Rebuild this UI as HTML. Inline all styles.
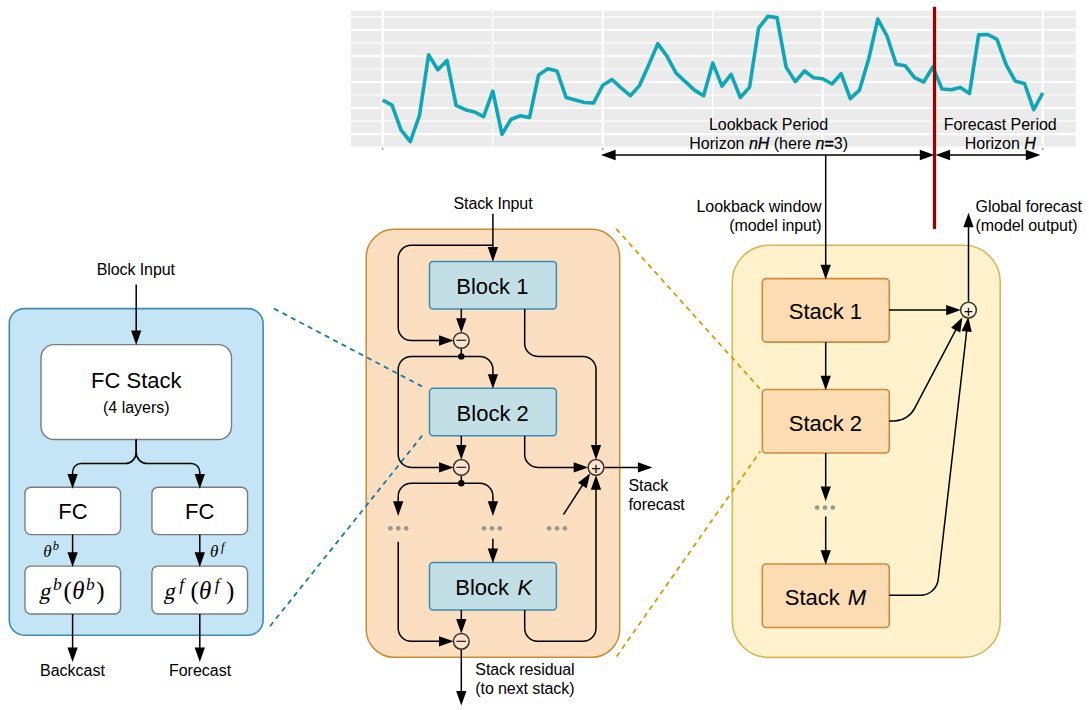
<!DOCTYPE html>
<html lang="en"><head><meta charset="utf-8"><title>N-BEATS architecture</title>
<style>
html,body{margin:0;padding:0;background:#fff;}
body{width:1089px;height:710px;overflow:hidden;}
svg{display:block;}
text{font-family:"Liberation Sans",sans-serif;fill:#000;}
.l{font-size:16px;}
.n{letter-spacing:-0.09px;}
.ib{font-style:italic;stroke:#000;stroke-width:0.25px;}
.t{font-size:22px;}
.i{font-style:italic;}
.m{font-family:"Liberation Serif",serif;font-style:italic;}
.ln{fill:none;stroke:#000;stroke-width:1.5;}
.ah{fill:#000;stroke:none;}
.ms{font-family:"Liberation Serif",serif;}
</style></head><body>
<svg width="1089" height="710" viewBox="0 0 1089 710">
<g id="chart">
<rect x="351" y="10.9" width="724.8" height="136.7" fill="#ebebeb"/>
<line x1="351" x2="1075.8" y1="16.9" y2="16.9" stroke="#fff" stroke-width="1.2"/>
<line x1="351" x2="1075.8" y1="29.9" y2="29.9" stroke="#fff" stroke-width="2.1"/>
<line x1="351" x2="1075.8" y1="42.9" y2="42.9" stroke="#fff" stroke-width="1.2"/>
<line x1="351" x2="1075.8" y1="56.0" y2="56.0" stroke="#fff" stroke-width="2.1"/>
<line x1="351" x2="1075.8" y1="69.0" y2="69.0" stroke="#fff" stroke-width="1.2"/>
<line x1="351" x2="1075.8" y1="82.0" y2="82.0" stroke="#fff" stroke-width="2.1"/>
<line x1="351" x2="1075.8" y1="95.0" y2="95.0" stroke="#fff" stroke-width="1.2"/>
<line x1="351" x2="1075.8" y1="108.0" y2="108.0" stroke="#fff" stroke-width="2.1"/>
<line x1="351" x2="1075.8" y1="121.1" y2="121.1" stroke="#fff" stroke-width="1.2"/>
<line x1="351" x2="1075.8" y1="134.1" y2="134.1" stroke="#fff" stroke-width="2.1"/>
<line x1="351" x2="1075.8" y1="147.1" y2="147.1" stroke="#fff" stroke-width="1.2"/>
<line x1="382.7" x2="382.7" y1="10.9" y2="147.6" stroke="#fff" stroke-width="2.2"/>
<rect x="382.2" y="148.1" width="1" height="1.6" fill="#555"/>
<line x1="492.7" x2="492.7" y1="10.9" y2="147.6" stroke="#fff" stroke-width="1.2"/>
<line x1="602.7" x2="602.7" y1="10.9" y2="147.6" stroke="#fff" stroke-width="2.2"/>
<rect x="602.2" y="148.1" width="1" height="1.6" fill="#555"/>
<line x1="712.7" x2="712.7" y1="10.9" y2="147.6" stroke="#fff" stroke-width="1.2"/>
<line x1="822.7" x2="822.7" y1="10.9" y2="147.6" stroke="#fff" stroke-width="2.2"/>
<rect x="822.2" y="148.1" width="1" height="1.6" fill="#555"/>
<line x1="932.7" x2="932.7" y1="10.9" y2="147.6" stroke="#fff" stroke-width="1.2"/>
<line x1="1042.7" x2="1042.7" y1="10.9" y2="147.6" stroke="#fff" stroke-width="2.2"/>
<rect x="1042.2" y="148.1" width="1" height="1.6" fill="#555"/>
<polyline points="382.8,100.2 392.0,105.2 401.1,130.2 410.3,141.5 419.5,115.3 428.6,54.7 437.8,69.8 447.0,60.4 456.1,105.4 465.3,109.7 474.5,112.0 483.6,116.7 492.8,91.2 502.0,134.3 511.1,119.2 520.3,115.8 529.5,117.6 538.6,75.0 547.8,68.7 557.0,71.0 566.1,97.5 575.3,100.0 584.5,102.5 593.6,103.0 602.8,85.2 612.0,79.5 621.1,87.9 630.3,95.7 639.5,85.6 648.6,65.3 657.8,43.6 667.0,56.3 676.1,73.2 685.3,81.6 694.5,90.1 703.6,95.7 712.8,63.1 722.0,86.1 731.1,74.3 740.3,97.5 749.5,87.4 758.6,28.2 767.8,16.4 777.0,17.6 786.1,67.1 795.3,81.6 804.5,71.0 813.6,77.7 822.8,78.8 832.0,84.0 841.1,73.7 850.3,98.7 859.5,90.1 868.7,59.0 877.8,19.1 887.0,36.0 896.2,64.2 905.3,65.8 914.5,77.7 923.7,82.0 932.8,67.0 942.0,89.0 951.2,89.7 960.3,87.4 969.5,93.5 978.7,34.9 987.8,34.5 997.0,39.4 1006.2,64.9 1015.3,81.1 1024.5,83.4 1033.7,109.7 1042.8,93.0" fill="none" stroke="#0fa6b6" stroke-width="3.6" stroke-linejoin="round" stroke-linecap="butt"/>
</g>
<g id="containers">
<rect x="9.3" y="308.6" width="253.8" height="326.6" rx="15" fill="#c4e5f5" stroke="#3d8bb5" stroke-width="1.6"/>
<rect x="366.2" y="229.3" width="253.5" height="428" rx="28" fill="#fbdfc0" stroke="#cc8b33" stroke-width="1.5"/>
<rect x="732.3" y="245.3" width="267.9" height="412.1" rx="36.5" fill="#fff2cc" stroke="#d6b656" stroke-width="1.6"/>
<path d="M274 308.6L422 386.4" stroke="#1b78a5" stroke-width="1.8" stroke-dasharray="5.1 4.45" fill="none"/>
<path d="M270 626.2L423.2 434.4" stroke="#1b78a5" stroke-width="1.8" stroke-dasharray="5.1 4.45" fill="none"/>
<path d="M616.2 228.8L759.8 388.6" stroke="#d79b00" stroke-width="1.8" stroke-dasharray="5.1 4.45" fill="none"/>
<path d="M616.6 656.6L760.4 451.2" stroke="#d79b00" stroke-width="1.8" stroke-dasharray="5.1 4.45" fill="none"/>
</g>
<g id="boxes">
<rect x="41" y="344.6" width="190.5" height="94.9" rx="13" fill="#fff" stroke="#7c7c7c" stroke-width="1.4"/>
<rect x="24.95" y="487.2" width="95.6" height="47.4" rx="6" fill="#fff" stroke="#7c7c7c" stroke-width="1.4"/>
<rect x="24.95" y="566.1" width="95.6" height="47.9" rx="6" fill="#fff" stroke="#7c7c7c" stroke-width="1.4"/>
<rect x="151.95" y="487.2" width="95.6" height="47.4" rx="6" fill="#fff" stroke="#7c7c7c" stroke-width="1.4"/>
<rect x="151.95" y="566.1" width="95.6" height="47.9" rx="6" fill="#fff" stroke="#7c7c7c" stroke-width="1.4"/>
<rect x="429.5" y="261.4" width="126.9" height="47.5" rx="3.5" fill="#c3dfe6" stroke="#3b8db3" stroke-width="1.5"/>
<rect x="429.5" y="388.2" width="126.9" height="47.5" rx="3.5" fill="#c3dfe6" stroke="#3b8db3" stroke-width="1.5"/>
<rect x="429.5" y="562.5" width="126.9" height="47.5" rx="3.5" fill="#c3dfe6" stroke="#3b8db3" stroke-width="1.5"/>
<rect x="762.3" y="278.6" width="127" height="63.5" rx="4" fill="#fbdcb3" stroke="#cc8a3c" stroke-width="1.6"/>
<rect x="762.3" y="389.5" width="127" height="63.5" rx="4" fill="#fbdcb3" stroke="#cc8a3c" stroke-width="1.6"/>
<rect x="762.3" y="564.0" width="127" height="63.5" rx="4" fill="#fbdcb3" stroke="#cc8a3c" stroke-width="1.6"/>
</g>
<g id="lines">
<path class="ln" d="M760.00 155.00L608.80 155.00"/>
<path class="ln" d="M760.00 155.00L926.60 155.00"/>
<path class="ln" d="M990.00 155.00L943.30 155.00"/>
<path class="ln" d="M990.00 155.00L1032.60 155.00"/>
<path class="ln" d="M825.70 155.00L825.70 271.60"/>
<path class="ln" d="M136.20 284.40L136.20 337.20"/>
<path class="ln" d="M136.20 439.50L136.20 452.60A11.00 11.00 0 0 1 125.20 463.60L81.10 463.60A8.50 8.50 0 0 0 72.60 472.10L72.60 480.90"/>
<path class="ln" d="M136.20 439.50L136.20 452.60A11.00 11.00 0 0 0 147.20 463.60L191.30 463.60A8.50 8.50 0 0 1 199.80 472.10L199.80 480.90"/>
<path class="ln" d="M72.60 534.50L72.60 559.10"/>
<path class="ln" d="M199.80 534.50L199.80 559.10"/>
<path class="ln" d="M72.60 614.00L72.60 654.30"/>
<path class="ln" d="M199.80 614.00L199.80 654.30"/>
<path class="ln" d="M492.90 213.80L492.90 253.90"/>
<path class="ln" d="M492.90 245.30L411.20 245.30A13.00 13.00 0 0 0 398.20 258.30L398.20 327.50A13.00 13.00 0 0 0 411.20 340.50L445.80 340.50"/>
<path class="ln" d="M461.30 308.90L461.30 325.00"/>
<path class="ln" d="M461.30 349.00L461.30 356.40"/>
<path class="ln" d="M461.30 356.40L479.90 356.40A13.00 13.00 0 0 1 492.90 369.40L492.90 381.00"/>
<path class="ln" d="M461.30 356.40L411.20 356.40A13.00 13.00 0 0 0 398.20 369.40L398.20 454.40A13.00 13.00 0 0 0 411.20 467.40L445.80 467.40"/>
<path class="ln" d="M524.70 308.90L524.70 343.40A13.00 13.00 0 0 0 537.70 356.40L583.00 356.40A13.00 13.00 0 0 1 596.00 369.40L596.00 451.90"/>
<path class="ln" d="M461.30 436.00L461.30 451.90"/>
<path class="ln" d="M524.70 436.00L524.70 454.40A13.00 13.00 0 0 0 537.70 467.40L580.50 467.40"/>
<path class="ln" d="M461.30 475.90L461.30 483.20"/>
<path class="ln" d="M461.30 483.20L411.20 483.20A13.00 13.00 0 0 0 398.20 496.20L398.20 508.10"/>
<path class="ln" d="M461.30 483.20L479.90 483.20A13.00 13.00 0 0 1 492.90 496.20L492.90 508.10"/>
<path class="ln" d="M492.90 538.80L492.90 555.40"/>
<path class="ln" d="M398.20 541.70L398.20 628.30A13.00 13.00 0 0 0 411.20 641.30L445.80 641.30"/>
<path class="ln" d="M461.30 610.00L461.30 625.80"/>
<path class="ln" d="M524.70 610.00L524.70 628.30A13.00 13.00 0 0 0 537.70 641.30L583.00 641.30A13.00 13.00 0 0 0 596.00 628.30L596.00 482.90"/>
<path class="ln" d="M563.50 514.50L585.99 479.78"/>
<path class="ln" d="M604.50 467.40L644.70 467.40"/>
<path class="ln" d="M461.30 649.80L461.30 697.70"/>
<path class="ln" d="M825.70 342.10L825.70 382.50"/>
<path class="ln" d="M825.70 453.00L825.70 493.20"/>
<path class="ln" d="M825.70 516.40L825.70 557.00"/>
<path class="ln" d="M889.20 310.10L953.00 310.10"/>
<path class="ln" d="M889.20 421.00L894.10 421.00A23.00 23.00 0 0 0 914.46 408.70L958.84 324.20"/>
<path class="ln" d="M889.20 595.30L920.34 595.30A18.00 18.00 0 0 0 938.23 579.35L967.40 324.75"/>
<path class="ln" d="M968.50 301.60L968.50 220.50"/>
</g>
<g id="heads">
<polygon class="ah" points="601.00,155.00 615.60,149.85 615.60,160.15"/>
<polygon class="ah" points="934.40,155.00 919.80,160.15 919.80,149.85"/>
<polygon class="ah" points="935.50,155.00 950.10,149.85 950.10,160.15"/>
<polygon class="ah" points="1040.40,155.00 1025.80,160.15 1025.80,149.85"/>
<polygon class="ah" points="825.70,279.40 820.55,264.80 830.85,264.80"/>
<polygon class="ah" points="136.20,345.00 131.05,330.40 141.35,330.40"/>
<polygon class="ah" points="72.60,488.70 67.45,474.10 77.75,474.10"/>
<polygon class="ah" points="199.80,488.70 194.65,474.10 204.95,474.10"/>
<polygon class="ah" points="72.60,566.90 67.45,552.30 77.75,552.30"/>
<polygon class="ah" points="199.80,566.90 194.65,552.30 204.95,552.30"/>
<polygon class="ah" points="72.60,662.10 67.45,647.50 77.75,647.50"/>
<polygon class="ah" points="199.80,662.10 194.65,647.50 204.95,647.50"/>
<polygon class="ah" points="492.90,261.70 487.75,247.10 498.05,247.10"/>
<polygon class="ah" points="453.60,340.50 439.00,345.65 439.00,335.35"/>
<polygon class="ah" points="461.30,332.80 456.15,318.20 466.45,318.20"/>
<polygon class="ah" points="492.90,388.80 487.75,374.20 498.05,374.20"/>
<polygon class="ah" points="453.60,467.40 439.00,472.55 439.00,462.25"/>
<polygon class="ah" points="596.00,459.70 590.85,445.10 601.15,445.10"/>
<polygon class="ah" points="461.30,459.70 456.15,445.10 466.45,445.10"/>
<polygon class="ah" points="588.30,467.40 573.70,472.55 573.70,462.25"/>
<polygon class="ah" points="398.20,515.90 393.05,501.30 403.35,501.30"/>
<polygon class="ah" points="492.90,515.90 487.75,501.30 498.05,501.30"/>
<polygon class="ah" points="492.90,563.20 487.75,548.60 498.05,548.60"/>
<polygon class="ah" points="453.60,641.30 439.00,646.45 439.00,636.15"/>
<polygon class="ah" points="461.30,633.60 456.15,619.00 466.45,619.00"/>
<polygon class="ah" points="596.00,475.10 601.15,489.70 590.85,489.70"/>
<polygon class="ah" points="590.23,473.23 586.62,488.28 577.97,482.68"/>
<polygon class="ah" points="652.50,467.40 637.90,472.55 637.90,462.25"/>
<polygon class="ah" points="461.30,705.50 456.15,690.90 466.45,690.90"/>
<polygon class="ah" points="825.70,390.30 820.55,375.70 830.85,375.70"/>
<polygon class="ah" points="825.70,501.00 820.55,486.40 830.85,486.40"/>
<polygon class="ah" points="825.70,564.80 820.55,550.20 830.85,550.20"/>
<polygon class="ah" points="960.80,310.10 946.20,315.25 946.20,304.95"/>
<polygon class="ah" points="962.47,317.29 960.24,332.61 951.12,327.82"/>
<polygon class="ah" points="968.29,317.01 971.75,332.10 961.51,330.92"/>
<polygon class="ah" points="968.50,212.70 973.65,227.30 963.35,227.30"/>
</g>
<g id="top">
<line x1="934.5" x2="934.5" y1="6.8" y2="229" stroke="#990000" stroke-width="3.3"/>
<circle cx="461.3" cy="356.4" r="3.2" fill="#000"/>
<circle cx="461.3" cy="483.2" r="3.2" fill="#000"/>
<circle cx="390.4" cy="528.3" r="2.35" fill="#9b9793"/><circle cx="398.3" cy="528.3" r="2.35" fill="#9b9793"/><circle cx="406.2" cy="528.3" r="2.35" fill="#9b9793"/>
<circle cx="484.0" cy="528.3" r="2.35" fill="#9b9793"/><circle cx="491.9" cy="528.3" r="2.35" fill="#9b9793"/><circle cx="499.8" cy="528.3" r="2.35" fill="#9b9793"/>
<circle cx="549.1" cy="528.3" r="2.35" fill="#9b9793"/><circle cx="557.0" cy="528.3" r="2.35" fill="#9b9793"/><circle cx="564.9" cy="528.3" r="2.35" fill="#9b9793"/>
<circle cx="461.3" cy="340.5" r="7.85" fill="#fbe4cc" stroke="#36322e" stroke-width="1.5"/>
<circle cx="461.3" cy="467.4" r="7.85" fill="#fbe4cc" stroke="#36322e" stroke-width="1.5"/>
<circle cx="461.3" cy="641.3" r="7.85" fill="#fbe4cc" stroke="#36322e" stroke-width="1.5"/>
<circle cx="596.0" cy="467.4" r="7.85" fill="#fbe4cc" stroke="#36322e" stroke-width="1.5"/>
<circle cx="817.1" cy="507.5" r="2.35" fill="#9b9793"/><circle cx="825.0" cy="507.5" r="2.35" fill="#9b9793"/><circle cx="832.9" cy="507.5" r="2.35" fill="#9b9793"/>
<circle cx="968.5" cy="310.1" r="7.85" fill="#fef5df" stroke="#36322e" stroke-width="1.5"/>
</g>
<g id="labels">
<text class="l" x="768.5" y="130" text-anchor="middle">Lookback Period</text>
<text class="l" x="768.7" y="149" text-anchor="middle">Horizon <tspan class="ib">nH</tspan> (here <tspan class="ib">n</tspan><tspan stroke="#000" stroke-width="0.5">=</tspan>3)</text>
<text class="l" x="1000.3" y="130" text-anchor="middle">Forecast Period</text>
<text class="l" x="1000.3" y="149" text-anchor="middle">Horizon <tspan class="ib">H</tspan></text>
<text class="l n" x="821.5" y="211.5" text-anchor="end">Lookback window</text>
<text class="l n" x="821.5" y="230.5" text-anchor="end">(model input)</text>
<text class="l n" x="975.6" y="211.5">Global forecast</text>
<text class="l n" x="975.6" y="230.5">(model output)</text>
<text class="l n" x="135.8" y="274.8" text-anchor="middle">Block Input</text>
<text class="t" x="136.3" y="388" text-anchor="middle">FC Stack</text>
<text class="l" x="136.3" y="413" text-anchor="middle">(4 layers)</text>
<text class="t" x="73" y="519" text-anchor="middle">FC</text>
<text class="t" x="199.7" y="519" text-anchor="middle">FC</text>
<text class="m" style="font-style:normal" font-size="23.5" transform="translate(39.0,599.0) skewX(-12) scale(0.94,1)">g</text>
<text class="m"><tspan x="53.1" y="589.6" font-size="17.5">b</tspan><tspan x="63.4" y="599.0" font-size="25" font-style="normal">(</tspan><tspan x="72.25" y="599.0" font-size="25">θ</tspan><tspan x="86.0" y="589.6" font-size="17.5">b</tspan><tspan x="96.2" y="599.0" font-size="25" font-style="normal">)</tspan></text>
<text class="m" style="font-style:normal" font-size="23.5" transform="translate(163.5,599.0) skewX(-12) scale(0.94,1)">g</text>
<text class="m"><tspan x="179.25" y="589.6" font-size="17.5">f</tspan><tspan x="190.5" y="599.0" font-size="25" font-style="normal">(</tspan><tspan x="199.1" y="599.0" font-size="25">θ</tspan><tspan x="214.8" y="589.6" font-size="17.5">f</tspan><tspan x="226.05" y="599.0" font-size="25" font-style="normal">)</tspan></text>
<text class="m"><tspan x="43.2" y="556.5" font-size="17">θ</tspan><tspan x="52.7" y="550.4" font-size="12.5">b</tspan></text>
<text class="m"><tspan x="210.0" y="556.5" font-size="17">θ</tspan><tspan x="221.0" y="550.7" font-size="12.5">f</tspan></text>
<text class="l" x="72.5" y="675.7" text-anchor="middle">Backcast</text>
<text class="l" x="200" y="675.7" text-anchor="middle">Forecast</text>
<text class="t" x="492.4" y="294" text-anchor="middle">Block 1</text>
<text class="t" x="492.7" y="421" text-anchor="middle">Block 2</text>
<text class="t" x="493.7" y="595" text-anchor="middle">Block <tspan class="i" dx="2.2">K</tspan></text>
<text class="l n" x="493" y="208.9" text-anchor="middle">Stack Input</text>
<text class="op ms" font-size="21" x="455.31" y="347">−</text>
<text class="op ms" font-size="21" x="455.31" y="474">−</text>
<text class="op ms" font-size="21" x="455.31" y="648">−</text>
<text class="op" font-size="16" x="591.36" y="474">+</text>
<text class="l n" x="628.5" y="491">Stack</text>
<text class="l n" x="628.5" y="510">forecast</text>
<text class="l n" x="475.3" y="674.5">Stack residual</text>
<text class="l n" x="475.3" y="693.5">(to next stack)</text>
<text class="t" x="825.4" y="319" text-anchor="middle">Stack 1</text>
<text class="t" x="825.4" y="431" text-anchor="middle">Stack 2</text>
<text class="t" x="825.4" y="605" text-anchor="middle">Stack <tspan class="i" dx="1.9">M</tspan></text>
<text class="op" font-size="16" x="963.86" y="317">+</text>
</g>
</svg>
</body></html>
